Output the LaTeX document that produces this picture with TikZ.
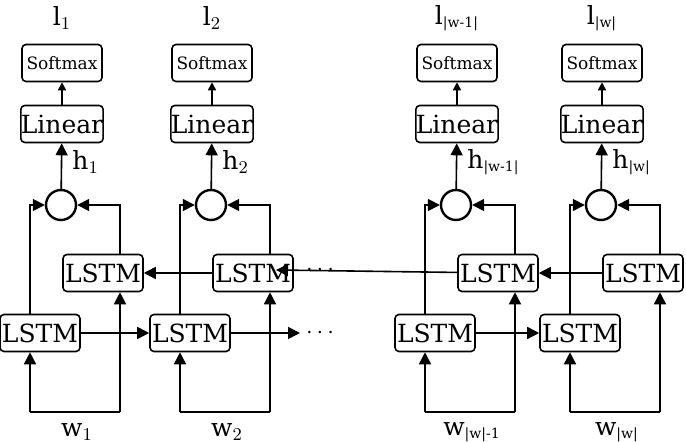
\documentclass[tikz,border=0pt]{standalone}
\usepackage{fontspec}
\setmainfont{DejaVu Serif}
\usetikzlibrary{arrows.meta}
\newcommand{\mn}{\mbox{-}}
\begin{document}
\begin{tikzpicture}[x=0.5pt,y=-0.5pt,
  box/.style={draw,rounded corners=2pt,thick,inner sep=0pt,minimum height=18.5pt},
  big/.style={box,font=\fontsize{12.5}{14}\selectfont,minimum width=40pt},
  sm/.style={box,font=\fontsize{8.5}{10}\selectfont,minimum width=40pt},
  circ/.style={draw,circle,very thick,minimum size=15pt,inner sep=0pt},
  lab/.style={font=\fontsize{12.5}{14}\selectfont,inner sep=0pt},
  arr/.style={-{Triangle[length=6pt,width=6pt]},thick},
  sarr/.style={-{Triangle[length=4pt,width=4pt]},thick}]
\useasboundingbox (0,0) rectangle (686,442);
\foreach \n/\o/\l/\h/\w in {1/0/l$_1$/h$_1$/w$_1$,
  2/150/l$_2$/h$_2$/w$_2$,
  3/395/l$_{\mbox{\scriptsize |w\mn1|}}$/h$_{\mbox{\scriptsize |w\mn1|}}$/w$_{\mbox{\scriptsize |w|\mn1}}$,
  4/540/l$_{\mbox{\scriptsize |w|}}$/h$_{\mbox{\scriptsize |w|}}$/w$_{\mbox{\scriptsize |w|}}$}{
  \begin{scope}[xshift=\o*0.5pt]
  \node[lab] (l\n) at (62,18) {\l};
  \node[sm] (s\n) at (62,63) {Softmax};
  \node[big] (lin\n) at (62,124) {Linear};
  \node[circ] (c\n) at (61,205) {};
  \node[lab,anchor=west] (h\n) at (72,162) {\h};
  \node[big] (b\n) at (103,273) {LSTM};
  \node[big] (f\n) at (40,333) {LSTM};
  \node[lab] (w\n) at (77,432) {\w};
  \coordinate (wl\n) at (30,412);
  \coordinate (wr\n) at (120,412);
  \draw[sarr] (lin\n) -- (s\n);
  \draw[arr] (c\n) -- (lin\n);
  \draw[arr] (wl\n) -- (f\n.south -| wl\n);
  \draw[thick] (wl\n) -- (wr\n);
  \draw[arr] (wr\n) -- (b\n.south -| wr\n);
  \draw[arr] (f\n.north -| wl\n) |- (c\n.west);
  \draw[arr] (b\n.north -| wr\n) |- (c\n.east);
  \end{scope}}
\draw[arr] (f1) -- (f2);
\draw[arr] (f3) -- (f4);
\draw[arr] (b2) -- (b1);
\draw[arr] (b4) -- (b3);
\coordinate (fe) at (300,333);
\coordinate (be) at (276,270);
\draw[arr] (f2) -- (fe);
\draw[arr] (b3) -- (be);
\node[lab] (d1) at (320,333) {$\cdots$};
\node[lab] (d2) at (320,270) {$\cdots$};
\end{tikzpicture}
\end{document}
